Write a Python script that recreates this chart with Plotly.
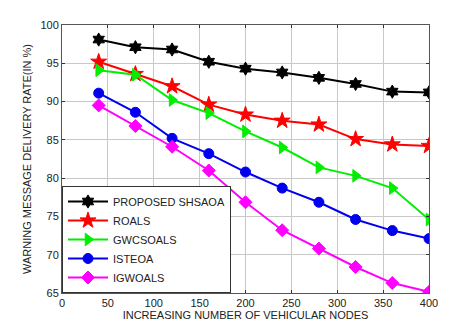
import plotly.graph_objects as go

nodes = [40, 80, 120, 160, 200, 240, 280, 320, 360, 400]
shsaoa = [98.1, 97.1, 96.8, 95.2, 94.3, 93.8, 93.1, 92.3, 91.3, 91.2]
roals = [95.2, 93.6, 92.0, 89.6, 88.3, 87.5, 87.0, 85.1, 84.4, 84.2]
gwcsoals = [94.1, 93.5, 90.2, 88.5, 86.1, 84.0, 81.4, 80.3, 78.7, 74.6]
isteoa = [91.1, 88.6, 85.2, 83.2, 80.8, 78.7, 76.85, 74.6, 73.15, 72.1]
igwoals = [89.5, 86.8, 84.1, 81.0, 76.85, 73.2, 70.8, 68.4, 66.3, 65.15]

names = ["PROPOSED SHSAOA", "ROALS", "GWCSOALS", "ISTEOA", "IGWOALS"]
series = [shsaoa, roals, gwcsoals, isteoa, igwoals]
colors = ["#000000", "#ff0000", "#00ee00", "#0000ee", "#ff00ff"]
symbols = ["hexagram", "star", "triangle-right", "circle", "diamond"]
sizes = [10, 12, 11, 10, 10]

fig = go.Figure()
for n, s, c, sym, sz in zip(names, series, colors, symbols, sizes):
    fig.add_trace(go.Scatter(
        x=nodes, y=s, name=n, mode="lines+markers",
        line=dict(color=c, width=2),
        marker=dict(symbol=sym, size=sz, color=c, line=dict(color=c, width=1)),
    ))

axis_common = dict(
    showgrid=True, gridcolor="#c8c8c8", gridwidth=1,
    showline=True, linecolor="#555555", linewidth=1, mirror="ticks",
    ticks="inside", ticklen=3, tickcolor="#333333",
    zeroline=False,
    tickfont=dict(family="Liberation Sans, Arial", size=11, color="#222222"),
)

fig.update_layout(
    width=474, height=330,
    margin=dict(l=62, r=45, t=25, b=37),
    paper_bgcolor="white", plot_bgcolor="white",
    font=dict(family="Liberation Sans, Arial", size=11, color="#222222"),
    xaxis=dict(range=[0, 400], tick0=0, dtick=50,
               title=dict(text="INCREASING NUMBER OF VEHICULAR NODES",
                          font=dict(size=11), standoff=2),
               **axis_common),
    yaxis=dict(range=[65, 100], tick0=65, dtick=5,
               title=dict(text="WARNING MESSAGE DELIVERY RATE(IN %)",
                          font=dict(size=11), standoff=6),
               **axis_common),
    legend=dict(x=0, y=0, xanchor="left", yanchor="bottom",
                bgcolor="white", bordercolor="#333333", borderwidth=1,
                font=dict(size=11), itemwidth=40, tracegroupgap=0,
                ),
    showlegend=True,
)

fig.write_html("out.html")
